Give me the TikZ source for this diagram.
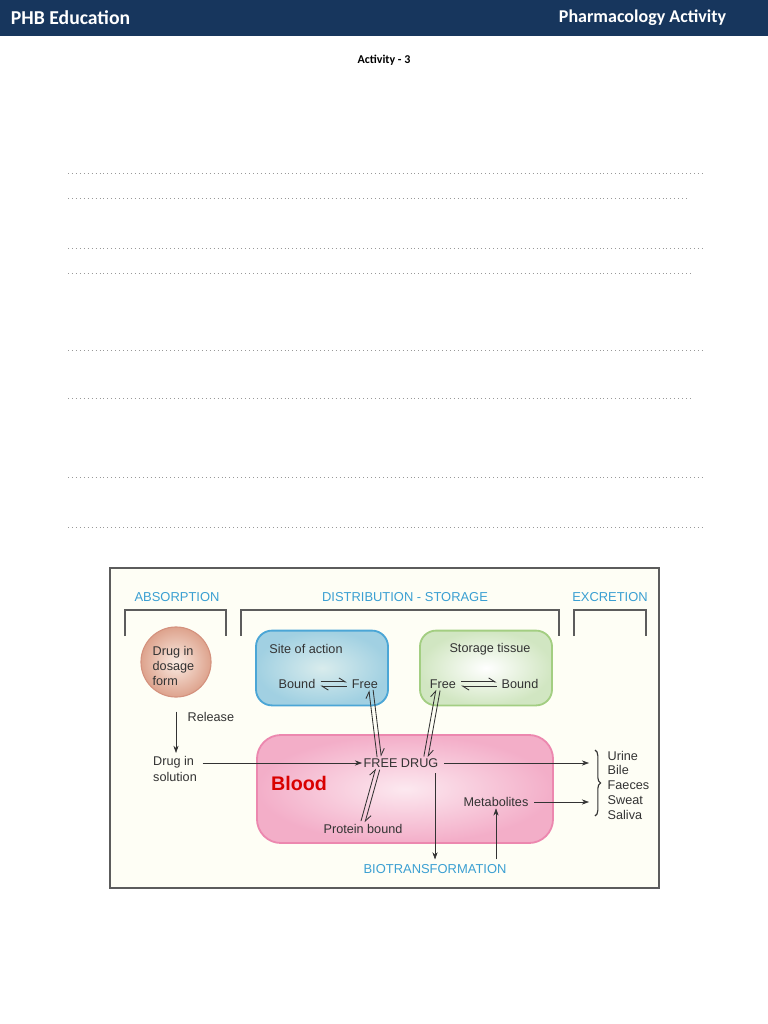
\documentclass[tikz,border=0pt]{standalone}
\usepackage{fontspec}
\setmainfont{Liberation Sans}
\newfontfamily\hdrfont{Carlito}
\usepackage{tikz}
\usetikzlibrary{arrows.meta, positioning, calc, decorations.pathreplacing}
\definecolor{navy}{HTML}{17365D}
\definecolor{stageblue}{HTML}{3A9FD2}
\definecolor{ink}{HTML}{333333}
\definecolor{paper}{HTML}{FEFEF5}
\definecolor{sitefill}{HTML}{CFE7E8}
\definecolor{siteline}{HTML}{4BA6D6}
\definecolor{storefill}{HTML}{EAF3E4}
\definecolor{storeline}{HTML}{A3CE82}
\definecolor{bloodfill}{HTML}{F9CDDD}
\definecolor{bloodline}{HTML}{EC88AF}
\definecolor{peach}{HTML}{F6D8C6}
\definecolor{rust}{HTML}{C9775E}
\tikzset{
  hdrtxt/.style={text=white, font=\hdrfont\bfseries\fontsize{14}{16}\selectfont},
  stage/.style={text=stageblue, font=\fontsize{9.2}{11}\selectfont},
  lbl/.style={text=ink, font=\fontsize{9}{11}\selectfont, inner sep=1pt},
  compart/.style={rectangle, rounded corners=4mm, line width=1.3pt},
  flow/.style={-{Stealth[length=1.8mm, width=1.3mm]}, thin, ink},
  half/.style={-{Straight Barb[harpoon, length=1.6mm, width=2mm]}, semithick, ink},
  dots/.style={gray!80, line width=0.6pt, dash pattern=on 0.6pt off 2.2pt},
  bracket/.style={ink!80, line width=0.9pt}
}
% two opposite half-arrows between two points
\newcommand\eqarrow[3][]{%
  \draw[half, #1] ($(#2)!1.5pt!90:(#3)$) -- ($(#3)!1.5pt!-90:(#2)$);
  \draw[half, #1] ($(#3)!1.5pt!90:(#2)$) -- ($(#2)!1.5pt!-90:(#3)$);}
\begin{document}
\begin{tikzpicture}[x=0.025cm, y=-0.025cm]
  \useasboundingbox (0,0) rectangle (768,1024);
  % page head
  \fill[navy] (0,0) rectangle (768,36);
  \node[hdrtxt, anchor=west] (brand) at (6,18) {PHB Education};
  \node[hdrtxt, anchor=east, font=\hdrfont\bfseries\fontsize{12.8}{15}\selectfont] (subject) at (731,18) {Pharmacology Activity};
  \node[font=\hdrfont\bfseries\fontsize{8.5}{10}\selectfont] (act) at (384,60) {Activity - 3};
  % answer lines
  \foreach \y/\e in {173/702, 198/690, 248/702, 273/692, 350/702, 398/692, 477/702, 527/702}
    \draw[dots] (68,\y) -- (\e,\y);

  % figure
  \draw[fill=paper, draw=ink!80, line width=0.8pt] (110,568) rectangle (659,888);
  \node[stage] (absorb) at (177,597) {ABSORPTION};
  \node[stage] (distrib) at (405,597) {DISTRIBUTION - STORAGE};
  \node[stage] (excr) at (610,597) {EXCRETION};
  \draw[bracket] (125,636) |- (226,610) -- (226,636);
  \draw[bracket] (241,636) |- (559,610) -- (559,636);
  \draw[bracket] (574,636) |- (646,610) -- (646,636);

  \node[circle, minimum size=1.75cm, inner color=peach!50!white, outer color=rust!55!peach, draw=rust!80, line width=0.8pt] (dosage) at (176,662) {};
  \node[lbl, align=left, anchor=west] (dosetxt) at (151,666) {Drug in\\dosage\\form};

  \node[compart, inner color=sitefill!80!white, outer color=siteline!35!sitefill, draw=siteline, minimum width=3.3cm, minimum height=1.87cm] (site) at (322,668) {};
  \node[lbl] (sitetitle) at (306,649) {Site of action};
  \node[lbl] (sbound) at (297,684) {Bound};
  \node[lbl] (sfree) at (365,684) {Free};
  \eqarrow[shorten <=2.5pt, shorten >=2.5pt]{sbound.east}{sfree.west}

  \node[compart, inner color=white, outer color=storeline!35!storefill, draw=storeline, minimum width=3.3cm, minimum height=1.87cm] (store) at (486,668) {};
  \node[lbl] (storetitle) at (490,649) {Storage tissue};
  \node[lbl] (tfree) at (443,684) {Free};
  \node[lbl] (tbound) at (520,684) {Bound};
  \eqarrow[shorten <=2.5pt, shorten >=2.5pt]{tfree.east}{tbound.west}

  \node[compart, rounded corners=6mm, inner color=bloodfill!45!white, outer color=bloodline!45!bloodfill, draw=bloodline, minimum width=7.4cm, minimum height=2.7cm] (blood) at (405,789) {};
  \node[text=red!85!black, font=\bfseries\fontsize{14}{16}\selectfont] (bloodtxt) at (299,783) {Blood};
  \node[lbl] (freedrug) at (401,763) {FREE DRUG};
  \node[lbl] (protein) at (363,829) {Protein bound};
  \node[lbl] (metab) at (496,802) {Metabolites};

  \node[lbl, anchor=west] (release) at (186,717) {Release};
  \node[lbl, align=left] (solution) at (175,769) {Drug in\\solution};
  \node[stage] (biotr) at (435,869) {BIOTRANSFORMATION};
  \node[lbl, align=left, anchor=west, font=\fontsize{9}{10.5}\selectfont] (outlets) at (606,785) {Urine\\Bile\\Faeces\\Sweat\\Saliva};
  \coordinate (bt) at (595,750);
  \coordinate (bb) at (595,816);
  \draw[ink, thick, decorate, decoration={brace, amplitude=4pt}] (bt) -- (bb);

  % arrows
  \draw[flow, shorten <=3.5mm, shorten >=0.5mm] (dosage.south) -- (dosage.south |- solution.north);
  \draw[flow, shorten <=1mm] (solution.east |- freedrug) -- (freedrug.west);
  \draw[flow, shorten <=1mm, shorten >=1.5mm] (freedrug.east) -- (freedrug -| bt);
  \draw[flow, shorten <=1mm, shorten >=1.5mm] (metab.east) -- (metab -| bt);
  \draw[flow, shorten <=1mm] (biotr |- freedrug.south) -- (biotr.north);
  \draw[flow] (metab |- biotr.north) -- (metab.south);
  \eqarrow{$(sfree.south)+(6,0)$}{$(freedrug.north west)!0.22!(freedrug.north east)$}
  \eqarrow{$(tfree.south)+(-5,0)$}{$(freedrug.north west)!0.82!(freedrug.north east)$}
  \eqarrow{$(freedrug.south west)!0.2!(freedrug.south east)$}{$(protein.north)+(0,-1)$}
\end{tikzpicture}
\end{document}
